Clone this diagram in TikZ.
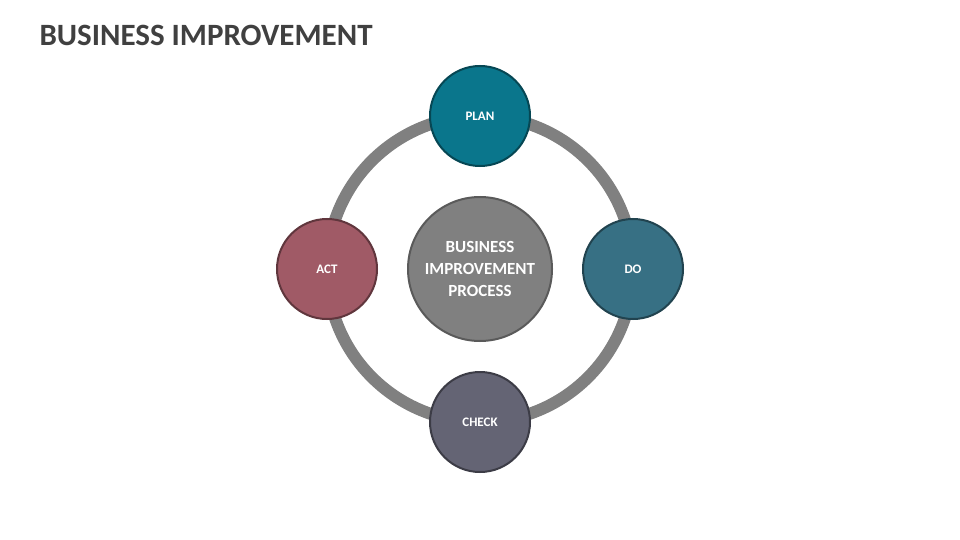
\documentclass[tikz,border=0pt]{standalone}
\usepackage{fontspec}
\setmainfont{Carlito}
\begin{document}
\begin{tikzpicture}[x=1pt,y=-1pt,
  small/.style={circle,minimum size=100pt,inner sep=0pt,text=white,font=\bfseries\fontsize{13}{15}\selectfont,draw=#1!60!black,line width=2pt,fill=#1},
  ]
\definecolor{plan}{RGB}{10,118,140}
\definecolor{doc}{RGB}{55,112,132}
\definecolor{checkc}{RGB}{100,100,116}
\definecolor{actc}{RGB}{160,90,102}
\definecolor{ring}{RGB}{128,128,128}
\useasboundingbox (0,0) rectangle (960,540);
\fill[white] (0,0) rectangle (960,540);
\node[anchor=west,text=black!75,font=\bfseries\fontsize{31}{36}\selectfont] (title) at (36,35) {BUSINESS IMPROVEMENT};
\coordinate (c) at (480,269);
\draw[ring,line width=12pt] (c) circle (153);
\node[circle,minimum size=144pt,inner sep=0pt,fill=ring,draw=ring!70!black,line width=2pt,text=white,align=center,font=\bfseries\fontsize{17}{22}\selectfont] (center) at (c) {BUSINESS\\IMPROVEMENT\\PROCESS};
\node[small=plan] (plan) at (480,116) {PLAN};
\node[small=doc] (do) at (633,269) {DO};
\node[small=checkc] (check) at (480,422) {CHECK};
\node[small=actc] (act) at (327,269) {ACT};
\end{tikzpicture}
\end{document}
